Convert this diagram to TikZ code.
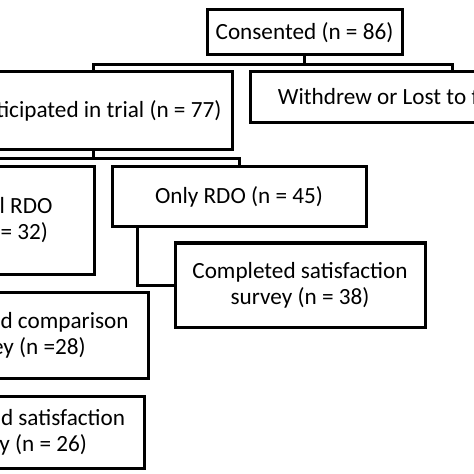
\documentclass[tikz,border=0pt]{standalone}
\usepackage{fontspec}
\setmainfont{Carlito}
\begin{document}
\begin{tikzpicture}[x=1bp,y=-1bp,
  box/.style={draw=black,line width=3bp,inner sep=0pt,align=center,
    font=\fontsize{23.2bp}{26bp}\selectfont},
  link/.style={draw=black,line width=3bp}]
\useasboundingbox (0,0) rectangle (474,474);
\fill[white] (0,0) rectangle (474,474);
\clip (0,0) rectangle (474,474);
\node[box,minimum width=195bp,minimum height=45bp] (cons) at (304.5,32.5) {Consented (n = 86)};
\node[box,minimum width=277bp,minimum height=78bp] (part) at (93.5,111) {Participated in trial (n = 77)};
\node[box,minimum width=404bp,minimum height=51bp] (with) at (452,97.5) {Withdrew or Lost to follow-up (n = 9)};
\node[box,minimum width=164bp,minimum height=107bp] (rdo2) at (12,220.5) {Full RDO\\(n = 32)};
\node[box,minimum width=254bp,minimum height=59bp] (only) at (239,196.5) {Only RDO (n = 45)};
\node[box,minimum width=250bp,minimum height=84bp] (sat1) at (300,285) {Completed satisfaction\\survey (n = 38)};
\node[box,minimum width=258bp,minimum height=86bp] (comp) at (19,335) {Completed comparison\\survey (n =28)};
\node[box,minimum width=253bp,minimum height=72bp] (sat2) at (17.5,432) {Completed satisfaction\\survey (n = 26)};
% connectors
\draw[link] (cons.south) -- ++(0,8) coordinate (bus1);
\draw[link] (bus1) -| (part.north);
\draw[link] (bus1) -| (with.north);
\draw[link] (part.south) -- ++(0,7) coordinate (bus2);
\draw[link] (bus2) -| (only.north);
\draw[link] (bus2) -| ([xshift=-25bp]rdo2.north);
\draw[link] ([xshift=-102bp]only.south) |- (sat1.west);
\end{tikzpicture}
\end{document}
